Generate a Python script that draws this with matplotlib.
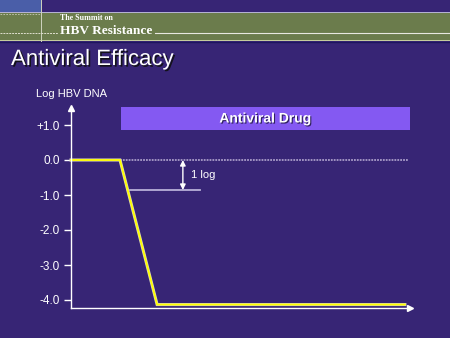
import matplotlib
matplotlib.use("Agg")
import matplotlib.pyplot as plt
import matplotlib.patheffects as pe
from matplotlib.patches import Rectangle

plt.rcParams['font.family'] = ['Liberation Sans', 'DejaVu Sans']

# chart data (time in arbitrary units, log10 change in HBV DNA)
time_pts = [0.0, 1.445, 2.54, 9.85]
log_dna = [0.0, 0.0, -4.13, -4.13]
ytick_vals = [1, 0, -1, -2, -3, -4]
ytick_labels = ['+1.0', '0.0', '-1.0', '-2.0', '-3.0', '-4.0']
drug_start, drug_end = 1.47, 10.0
drug_bottom, drug_top = 0.857, 1.514
one_log_x = 3.30
one_log_level = -0.857
ref_line_x = [1.74, 3.80]

BG = '#372575'
W = 450
H = 338

fig = plt.figure(figsize=(4.5, 3.38), dpi=100)
fig.patch.set_facecolor(BG)


def fx(px):
    return px / W


def fy(py):
    return 1 - py / H


# header band
fig.patches.append(Rectangle((0, fy(41)), 1, fy(12) - fy(41), transform=fig.transFigure,
                             facecolor='#6b7c4c', edgecolor='none'))
fig.patches.append(Rectangle((0, fy(12)), fx(41), fy(0) - fy(12), transform=fig.transFigure,
                             facecolor='#4a5ea8', edgecolor='none'))
fig.add_artist(plt.Line2D([0, 1], [fy(12), fy(12)], color='#b8b4d8', lw=0.7, transform=fig.transFigure))
fig.add_artist(plt.Line2D([0, 1], [fy(40), fy(40)], color='#c8d0a0', lw=0.7, transform=fig.transFigure))
fig.add_artist(plt.Line2D([0, 1], [fy(41.5), fy(41.5)], color='#1e1660', lw=1.0, transform=fig.transFigure))
fig.add_artist(plt.Line2D([fx(41), fx(41)], [fy(0), fy(41)], color='#d0d4c0', lw=0.7, transform=fig.transFigure))
fig.add_artist(plt.Line2D([0, fx(41)], [fy(14), fy(14)], color='#c8ccb8', lw=0.6, ls=(0, (2, 1.5)), transform=fig.transFigure))
fig.add_artist(plt.Line2D([0, fx(58)], [fy(33), fy(33)], color='#e0e0d0', lw=0.7, ls=(0, (2, 1)), transform=fig.transFigure))
fig.add_artist(plt.Line2D([fx(155), 1], [fy(33), fy(33)], color='#e8e8e0', lw=0.8, transform=fig.transFigure))

fig.text(fx(60), fy(20), 'The Summit on', family='Liberation Serif', weight='bold',
         fontsize=5.7, color='white', va='baseline')
fig.text(fx(60), fy(33.5), 'HBV Resistance', family='Liberation Serif', weight='bold',
         fontsize=9.6, color='white', va='baseline')

shadow = [pe.withSimplePatchShadow(offset=(1.2, -1.2), shadow_rgbFace='#101010', alpha=0.9)]
fig.text(fx(11), fy(65), 'Antiviral Efficacy', fontsize=16, color='white', va='baseline',
         path_effects=shadow)

# main axes
ax_bottom_px, ax_top_px = 307.5, 108
ax_left_px, ax_right_px = 71, 410
ax = fig.add_axes([fx(ax_left_px), fy(ax_bottom_px), fx(ax_right_px - ax_left_px),
                   (ax_bottom_px - ax_top_px) / H])
ax.set_facecolor('none')
ax.set_xlim(0, 10)
ax.set_ylim((160 - ax_bottom_px) / 35, (160 - ax_top_px) / 35)
for s in ['top', 'right']:
    ax.spines[s].set_visible(False)
for s in ['left', 'bottom']:
    ax.spines[s].set_color('white')
    ax.spines[s].set_linewidth(1.0)
ax.set_xticks([])
ax.set_yticks(ytick_vals)
ax.set_yticklabels(ytick_labels)
ax.tick_params(axis='y', direction='out', length=5, width=1.0, color='white',
               labelcolor='white', labelsize=8.5, pad=3)

# axis arrow heads
ax.plot(0, 1, '^', color='white', ms=4, transform=ax.transAxes, clip_on=False)
ax.plot(1, 0, '>', color='white', ms=4, transform=ax.transAxes, clip_on=False)

ax.text(0, 1.055, 'Log HBV DNA', transform=ax.transAxes, ha='center', va='baseline',
        fontsize=8, color='white')

# drug bar
ax.add_patch(Rectangle((drug_start, drug_bottom), drug_end - drug_start, drug_top - drug_bottom,
                       facecolor='#8459f2', edgecolor='none', clip_on=False))
ax.text((drug_start + drug_end) / 2, (drug_bottom + drug_top) / 2, 'Antiviral Drug',
        ha='center', va='center', fontsize=10, weight='bold', color='white',
        path_effects=[pe.withSimplePatchShadow(offset=(0.8, -0.8), shadow_rgbFace='#302060', alpha=1)])

# baseline dotted reference
ax.plot([time_pts[1], 9.94], [0, 0], color='#a89cc8', lw=1.3, ls=(0, (1, 0.6)))

# 1-log reference line and arrow
ax.plot(ref_line_x, [one_log_level, one_log_level], color='#b8b0d8', lw=1.3)
ax.annotate('', xy=(one_log_x, one_log_level), xytext=(one_log_x, 0),
            arrowprops=dict(arrowstyle='<|-|>', color='white', lw=1.0,
                            mutation_scale=8, shrinkA=0, shrinkB=0))
ax.text(one_log_x + 0.24, one_log_level / 2, '1 log', fontsize=8, color='white',
        ha='left', va='center')

# viral load curve
ax.plot(time_pts, log_dna, color='#ffff00', lw=1.3, solid_joinstyle='miter',
        path_effects=[pe.Stroke(linewidth=2.2, foreground='#d8d4c0'), pe.Normal()],
        clip_on=False)

fig.savefig('out.png', dpi=100, facecolor=fig.get_facecolor())
